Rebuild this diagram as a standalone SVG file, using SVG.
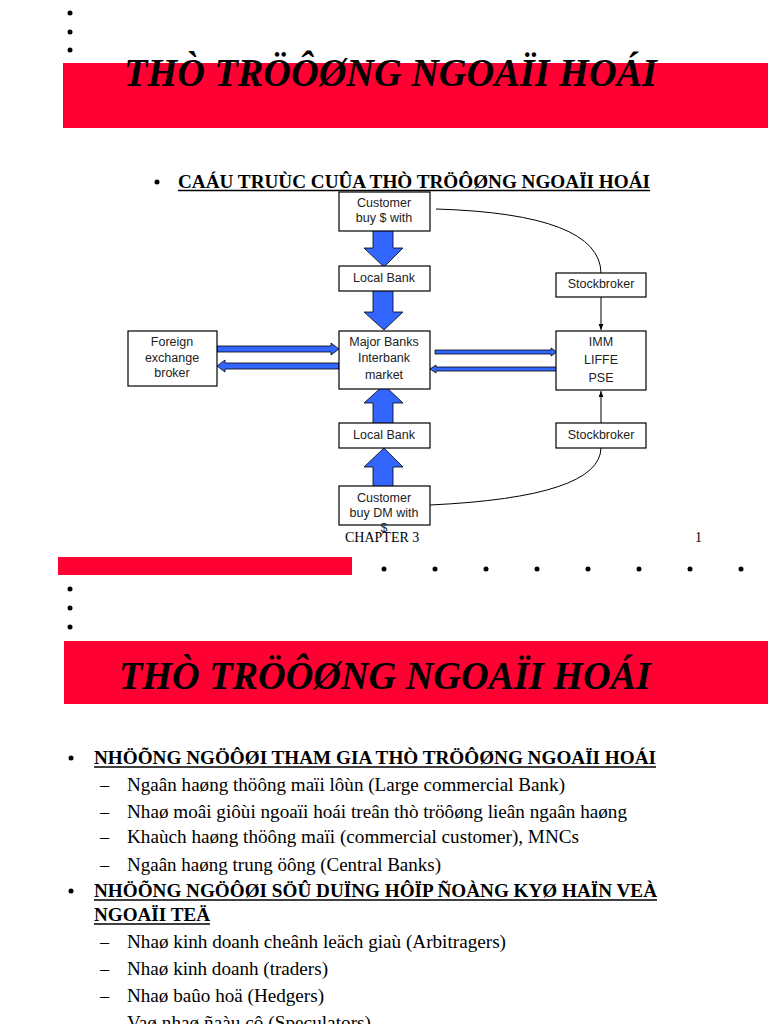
<svg xmlns="http://www.w3.org/2000/svg" width="768" height="1024" viewBox="0 0 768 1024">
<style>
.title{font-family:"Liberation Serif",serif;font-weight:bold;font-style:italic;font-size:40px;fill:#000}
.head{font-family:"Liberation Serif",serif;font-weight:bold;font-size:18px;fill:#000}
.body{font-family:"Liberation Serif",serif;font-size:18px;fill:#000}
.box rect{fill:#fff;stroke:#000;stroke-width:1.2}
.box text{font-family:"Liberation Sans",Arial,sans-serif;font-size:12.5px;fill:#222;text-anchor:middle}
.blk{fill:#3366ff;stroke:#000;stroke-width:0.8}
.thin{fill:none;stroke:#000;stroke-width:1}
.red{fill:#ff0033}
.foot{font-family:"Liberation Serif",serif;font-size:14px;fill:#000}
</style>
<defs>
<marker id="ah" viewBox="0 0 10 10" refX="10" refY="5" markerWidth="6" markerHeight="6" orient="auto">
<path d="M0,1 L10,5 L0,9 Z" fill="#000"/>
</marker>
</defs>
<rect width="768" height="1024" fill="#fff"/>

<!-- slide 1 -->
<g id="slide1-bullets" fill="#000">
<circle cx="70" cy="13" r="2.5"/><circle cx="70" cy="32" r="2.5"/><circle cx="70" cy="50" r="2.5"/>
</g>
<rect class="red" x="63" y="63" width="705" height="65"/>
<text class="title" x="124" y="86" textLength="533" lengthAdjust="spacingAndGlyphs">THÒ TRÖÔØNG NGOAÏI HOÁI</text>
<circle cx="157" cy="182" r="2.5" fill="#000"/>
<text class="head" x="178" y="188" textLength="472" lengthAdjust="spacingAndGlyphs">CAÁU TRUÙC CUÛA THÒ TRÖÔØNG NGOAÏI HOÁI</text>
<line x1="178" y1="190.5" x2="650" y2="190.5" stroke="#000" stroke-width="1.3"/>

<g id="connectors">
<path class="thin" d="M436,209 Q600,214 601,273"/>
<path class="thin" d="M430,505 Q600,497 601,448"/>
<line class="thin" x1="601" y1="297" x2="601" y2="330" marker-end="url(#ah)"/>
<line class="thin" x1="601" y1="423" x2="601" y2="391" marker-end="url(#ah)"/>
<polygon class="blk" points="373,227 393,227 393,248 403,248 384,267 364,248 373,248"/>
<polygon class="blk" points="373,290 393,290 393,312 403,312 384,330 364,312 373,312"/>
<polygon class="blk" points="384,385 403,403 393,403 393,424 373,424 373,403 364,403"/>
<polygon class="blk" points="384,448 403,467 393,467 393,487 373,487 373,467 364,467"/>
<polygon class="blk" points="217,346 331,346 331,343 339,349 331,355 331,352 217,352"/>
<polygon class="blk" points="339,363 225,363 225,360 217,366 225,372 225,369 339,369"/>
<polygon class="blk" points="435,350 551,350 551,348 557,352 551,356 551,354 435,354"/>
<polygon class="blk" points="557,367 436,367 436,365 430,369 436,373 436,371 557,371"/>
</g>

<g id="customer-usd" class="box"><rect x="339" y="192" width="91" height="39"/><text x="384" y="207">Customer</text><text x="384" y="222">buy $ with</text></g>
<g id="local-bank-top" class="box"><rect x="339" y="266" width="91" height="25"/><text x="384" y="282">Local Bank</text></g>
<g id="stockbroker-top" class="box"><rect x="556" y="273" width="90" height="24"/><text x="601" y="288">Stockbroker</text></g>
<g id="fx-broker" class="box"><rect x="128" y="331" width="89" height="55"/><text x="172" y="346">Foreign</text><text x="172" y="362">exchange</text><text x="172" y="377">broker</text></g>
<g id="major-banks" class="box"><rect x="339" y="331" width="91" height="58"/><text x="384" y="346">Major Banks</text><text x="384" y="362">Interbank</text><text x="384" y="379">market</text></g>
<g id="imm" class="box"><rect x="556" y="331" width="90" height="59"/><text x="601" y="346">IMM</text><text x="601" y="364">LIFFE</text><text x="601" y="382">PSE</text></g>
<g id="local-bank-bottom" class="box"><rect x="339" y="423" width="91" height="25"/><text x="384" y="439">Local Bank</text></g>
<g id="stockbroker-bottom" class="box"><rect x="556" y="423" width="90" height="25"/><text x="601" y="439">Stockbroker</text></g>
<g id="customer-dm" class="box"><rect x="339" y="486" width="91" height="39"/><text x="384" y="502">Customer</text><text x="384" y="517">buy DM with</text><text x="384" y="532">$</text></g>

<text class="foot" x="345" y="542">CHAPTER 3</text>
<text class="foot" x="695" y="542">1</text>

<rect class="red" x="58" y="557" width="294" height="18"/>
<g id="row-bullets" fill="#000">
<circle cx="384" cy="569" r="2.5"/><circle cx="435" cy="569" r="2.5"/><circle cx="486" cy="569" r="2.5"/><circle cx="537" cy="569" r="2.5"/><circle cx="588" cy="569" r="2.5"/><circle cx="639" cy="569" r="2.5"/><circle cx="690" cy="569" r="2.5"/><circle cx="741" cy="569" r="2.5"/>
<circle cx="70" cy="589" r="2.5"/><circle cx="70" cy="608" r="2.5"/><circle cx="70" cy="627" r="2.5"/>
</g>

<!-- slide 2 -->
<rect class="red" x="64" y="641" width="704" height="63"/>
<text class="title" x="119" y="689" textLength="532" lengthAdjust="spacingAndGlyphs">THÒ TRÖÔØNG NGOAÏI HOÁI</text>

<g id="list">
<circle cx="71" cy="758" r="2.5" fill="#000"/>
<text class="head" x="94" y="764" textLength="562" lengthAdjust="spacingAndGlyphs">NHÖÕNG NGÖÔØI THAM GIA THÒ TRÖÔØNG NGOAÏI HOÁI</text>
<line x1="94" y1="767" x2="656" y2="767" stroke="#000" stroke-width="1.3"/>
<text class="body" x="100" y="791">–</text><text class="body" x="127" y="791" textLength="438" lengthAdjust="spacingAndGlyphs">Ngaân haøng thöông maïi lôùn (Large commercial Bank)</text>
<text class="body" x="100" y="818">–</text><text class="body" x="127" y="818" textLength="500" lengthAdjust="spacingAndGlyphs">Nhaø moâi giôùi ngoaïi hoái treân thò tröôøng lieân ngaân haøng</text>
<text class="body" x="100" y="843">–</text><text class="body" x="127" y="843" textLength="452" lengthAdjust="spacingAndGlyphs">Khaùch haøng thöông maïi (commercial customer), MNCs</text>
<text class="body" x="100" y="871">–</text><text class="body" x="127" y="871" textLength="314" lengthAdjust="spacingAndGlyphs">Ngaân haøng trung öông (Central Banks)</text>
<circle cx="71" cy="891" r="2.5" fill="#000"/>
<text class="head" x="94" y="897" textLength="563" lengthAdjust="spacingAndGlyphs">NHÖÕNG NGÖÔØI SÖÛ DUÏNG HÔÏP ÑOÀNG KYØ HAÏN VEÀ</text>
<line x1="94" y1="900" x2="657" y2="900" stroke="#000" stroke-width="1.3"/>
<text class="head" x="94" y="921" textLength="116" lengthAdjust="spacingAndGlyphs">NGOAÏI TEÄ</text>
<line x1="94" y1="924" x2="210" y2="924" stroke="#000" stroke-width="1.3"/>
<text class="body" x="100" y="948">–</text><text class="body" x="127" y="948" textLength="379" lengthAdjust="spacingAndGlyphs">Nhaø kinh doanh cheânh leäch giaù (Arbitragers)</text>
<text class="body" x="100" y="975">–</text><text class="body" x="127" y="975" textLength="201" lengthAdjust="spacingAndGlyphs">Nhaø kinh doanh (traders)</text>
<text class="body" x="100" y="1002">–</text><text class="body" x="127" y="1002" textLength="197" lengthAdjust="spacingAndGlyphs">Nhaø baûo hoä (Hedgers)</text>
<text class="body" x="100" y="1029">–</text><text class="body" x="127" y="1029" textLength="244" lengthAdjust="spacingAndGlyphs">Vaø nhaø ñaàu cô (Speculators)</text>
</g>
</svg>
